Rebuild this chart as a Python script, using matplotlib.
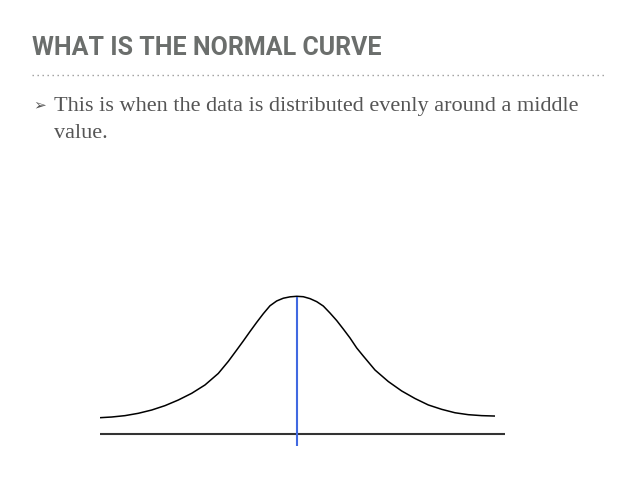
import matplotlib.pyplot as plt

# slide text
title = "WHAT IS THE NORMAL CURVE"
bullet_lines = ["This is when the data is distributed evenly around a middle", "value."]

# curve (x in sigma-ish units, height relative to the peak)
curve_x = [-3.94, -3.706, -3.44, -3.174, -2.906, -2.64, -2.374, -2.106, -1.84, -1.574, -1.374,
           -1.206, -1.074, -0.94, -0.806, -0.674, -0.54, -0.406, -0.274, -0.14, -0.006, 0.126,
           0.26, 0.394, 0.526, 0.66, 0.794, 0.926, 1.06, 1.194, 1.326, 1.56, 1.826, 2.094, 2.36,
           2.626, 2.894, 3.16, 3.426, 3.694, 3.96]
curve_y = [0.119, 0.124, 0.134, 0.151, 0.175, 0.207, 0.248, 0.297, 0.358, 0.442, 0.530,
           0.613, 0.679, 0.748, 0.815, 0.878, 0.936, 0.971, 0.991, 1.001, 1.005, 1.002,
           0.988, 0.966, 0.934, 0.883, 0.828, 0.766, 0.701, 0.628, 0.569, 0.467, 0.383, 0.314, 0.259,
           0.212, 0.180, 0.155, 0.141, 0.134, 0.131]
axis_x = [-3.94, 4.16]
mean_x = 0.0
mean_y = [-0.085, 1.0]

fig = plt.figure(figsize=(6.38, 4.79), dpi=100)
fig.patch.set_facecolor('white')

# title + dotted rule
fig.text(32 / 638, 1 - 48 / 479, title, fontsize=18, color='#6b6e6c', fontweight='bold',
         family=['Roboto', 'DejaVu Sans'], va='center', ha='left')
rule = fig.add_axes([0, 0, 1, 1])
rule.set_xlim(0, 638)
rule.set_ylim(479, 0)
rule.axis('off')
rule.plot([32, 605], [75, 75], color='#9a9a9a', lw=1.0, linestyle=(0, (1, 2.6)))

# bullet
fig.text(33 / 638, 1 - 105 / 479, "\u27a2", fontsize=11, color='#555555', va='center', ha='left',
         family='DejaVu Sans')
for i, line in enumerate(bullet_lines):
    fig.text(54 / 638, 1 - (106 + i * 28) / 479, line, fontsize=16, color='#555555',
             family='Liberation Serif', va='center', ha='left')

# normal curve
ax = fig.add_axes([100 / 638, 29 / 479, 405 / 638, 160 / 479])
ax.plot(curve_x, curve_y, color='black', lw=1.1, solid_capstyle='butt', solid_joinstyle='round')
ax.plot(axis_x, [0, 0], color='#333333', lw=1.5, solid_capstyle='butt')
ax.plot([mean_x, mean_x], mean_y, color='#4169e1', lw=1.5, solid_capstyle='butt')
ax.set_xlim(-3.94, 4.16)
ax.set_ylim(-0.1168, 1.051)
ax.axis('off')

fig.savefig('out.png', dpi=100, facecolor='white')
